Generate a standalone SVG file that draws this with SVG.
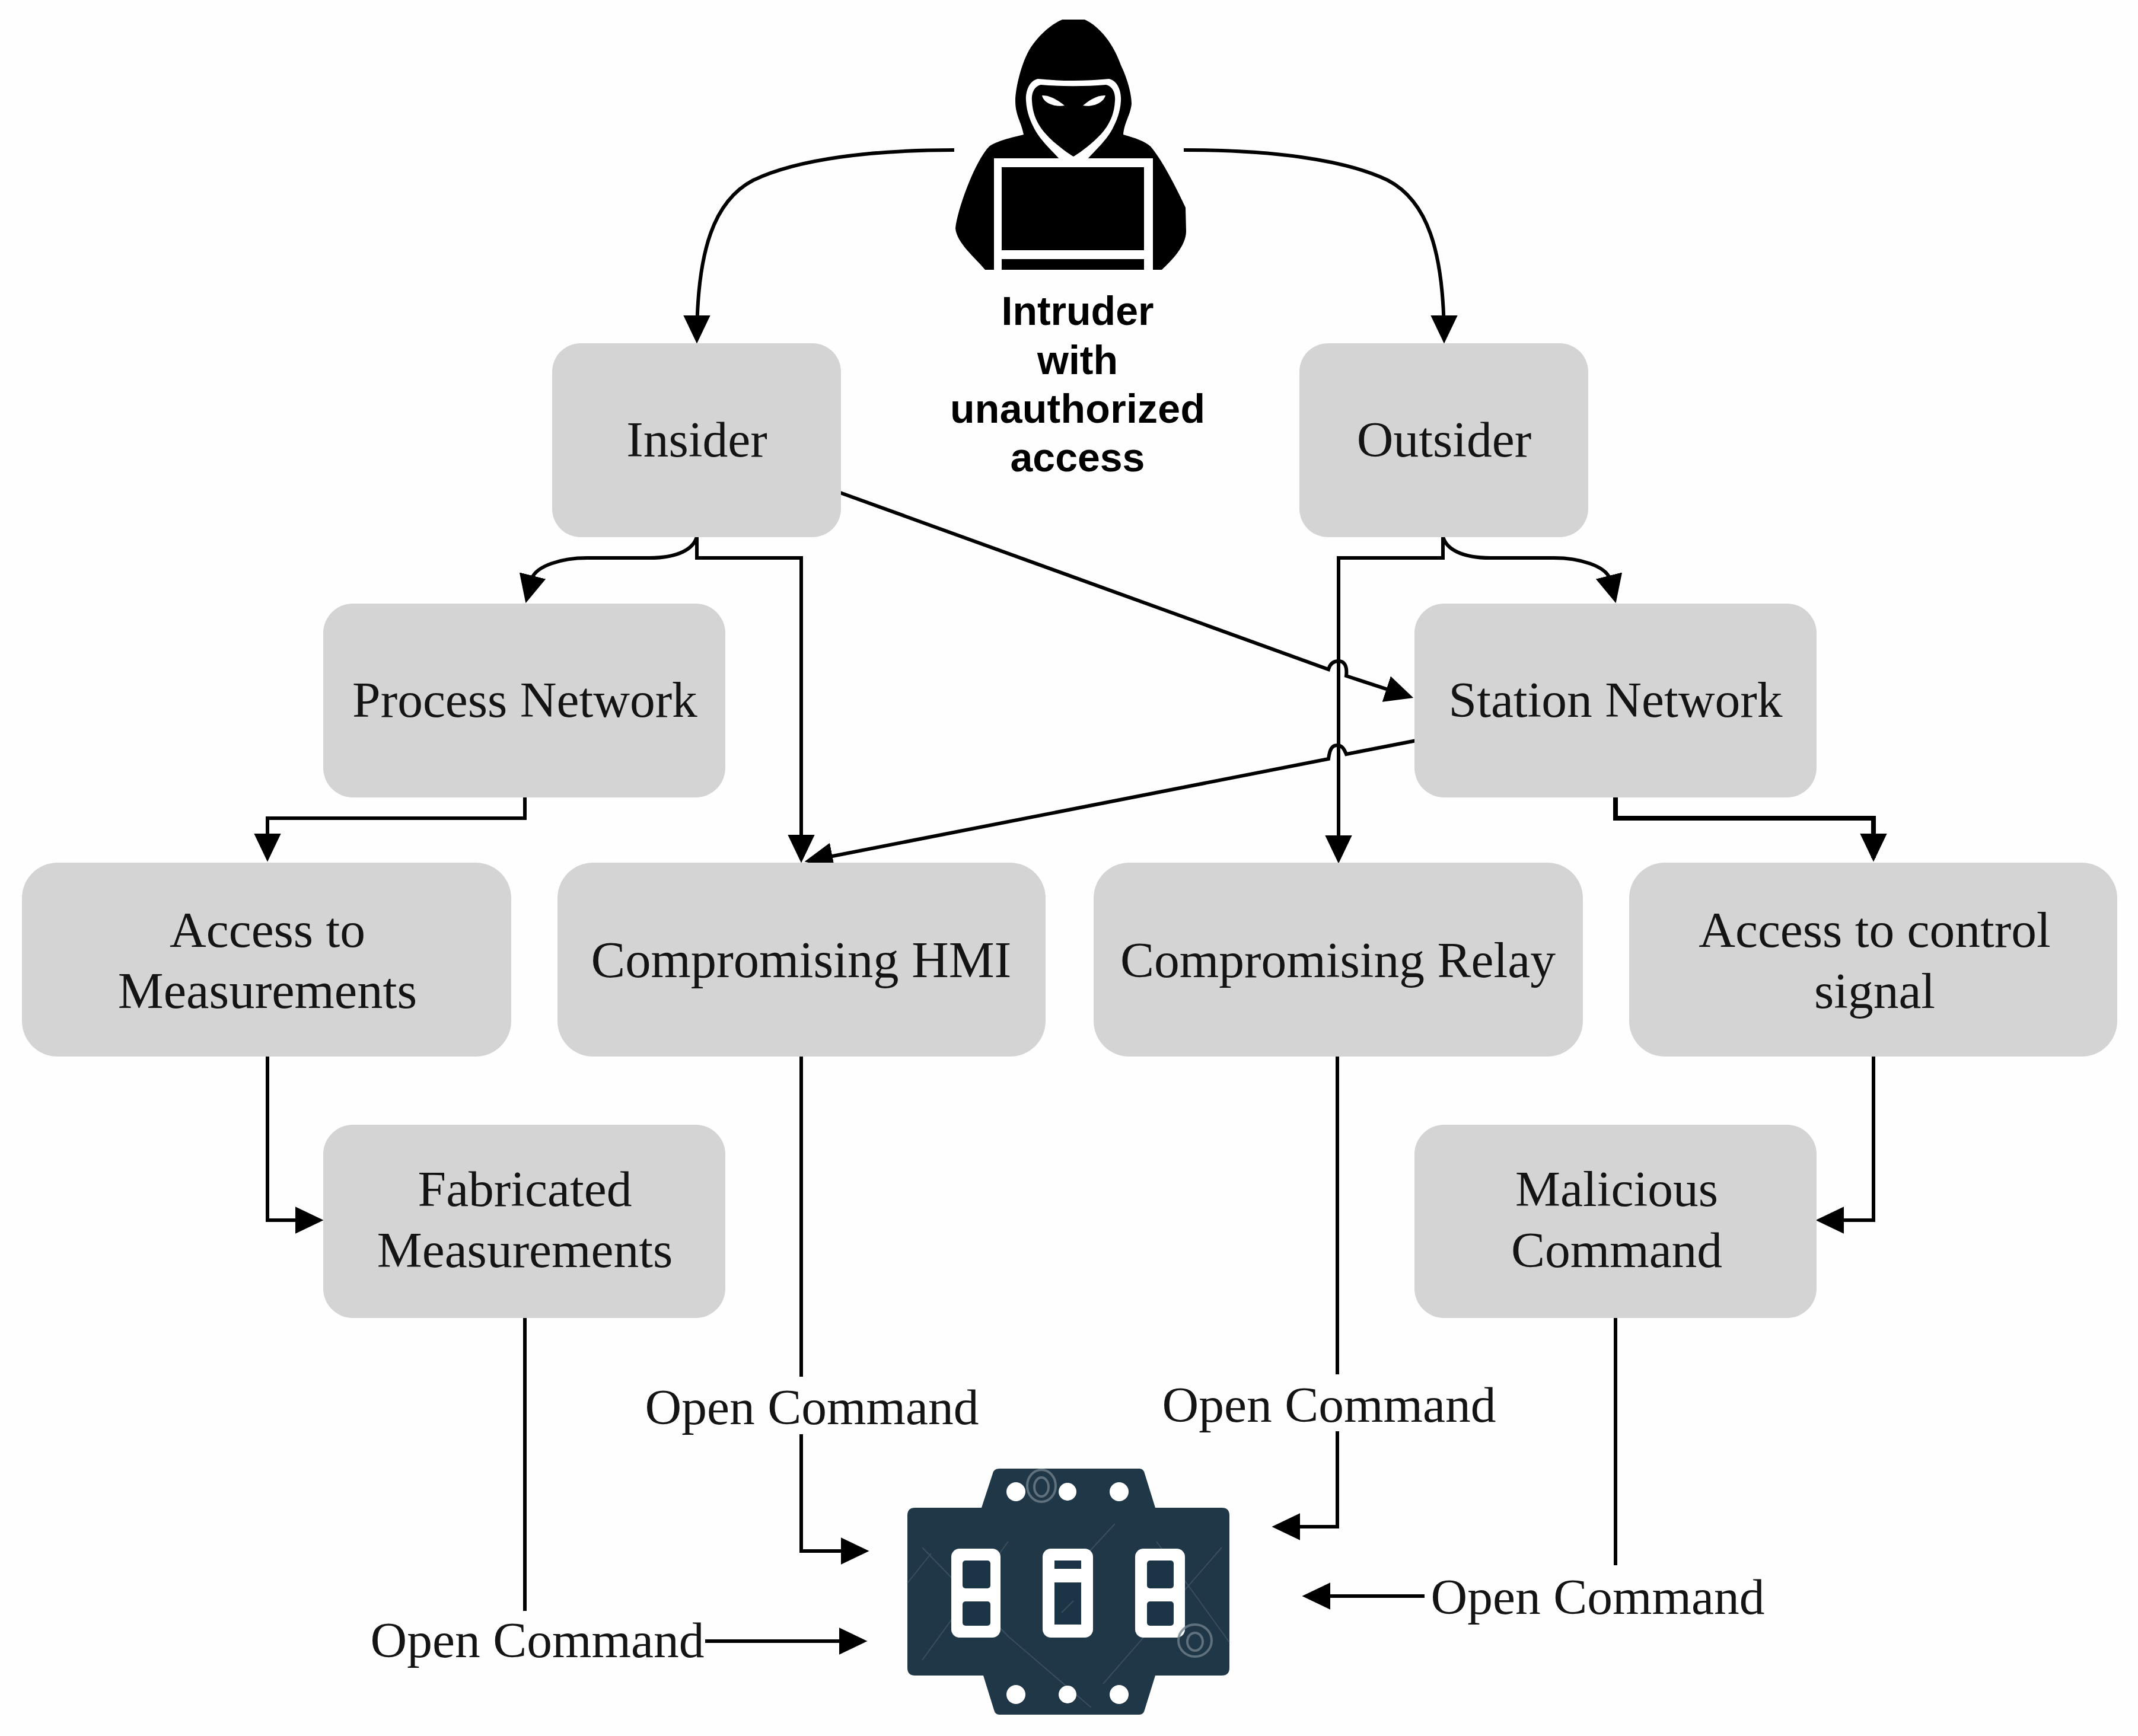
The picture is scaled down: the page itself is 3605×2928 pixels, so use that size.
<svg xmlns="http://www.w3.org/2000/svg" width="3605" height="2928" viewBox="0 0 3605 2928">
<style>
.box{fill:#d4d4d4}
.t{font-family:"Liberation Serif","Times New Roman",serif;font-size:85.5px;fill:#141414;text-anchor:middle}
.w{font-size:86.5px}
.b{font-family:"Liberation Sans",Arial,sans-serif;font-size:68px;font-weight:700;fill:#000;text-anchor:middle}
.c{fill:none;stroke:#000;stroke-width:6}
.h{stroke-width:8}
.a{marker-end:url(#arr)}
.wm{fill:none;stroke:#6f7f8a;stroke-width:4;opacity:.8}
.wl{fill:none;stroke:#46596a;stroke-width:2;opacity:.7}
</style>
<defs>
<marker id="arr" markerUnits="userSpaceOnUse" markerWidth="50" markerHeight="46" refX="38" refY="21" orient="auto" viewBox="0 0 46 42">
<path d="M0,0 L44,21 L0,42 Z" fill="#000"/>
</marker>
</defs>
<rect width="3605" height="2928" fill="#fefefe"/>
<g id="connectors">
<path class="c a" d="M1609,253 C1470,253 1345,268 1270,304 C1205,338 1175,420 1175,573"/>
<path class="c a" d="M1996,253 C2140,253 2265,268 2340,304 C2405,338 2435,420 2435,573"/>
<path class="c a" d="M1175,905 C1170,925 1145,941 1095,941 L990,941 C945,941 905,955 897,975 L888,1011"/>
<path class="c a" d="M1175,905 L1175,941 L1351,941 L1351,1449"/>
<path class="c a" d="M2433,905 C2438,925 2463,941 2513,941 L2620,941 C2665,941 2706,955 2714,975 L2723,1011"/>
<path class="c a" d="M2433,905 L2433,941 L2257,941 L2257,1450"/>
<path class="c a" d="M1414,830 L2240,1129 C2243,1118 2250,1115 2257,1115 C2266,1115 2272,1122 2270,1140 L2377,1175"/>
<path class="c a" d="M2388,1249 L2270,1272 C2266,1262 2262,1257 2255,1257 C2245,1257 2242,1265 2240,1280 L1363,1452"/>
<path class="c a" d="M885,1345 L885,1380 L451,1380 L451,1447"/>
<path class="c h a" d="M2724,1345 L2724,1380 L3159,1380 L3159,1447"/>
<path class="c a" d="M451,1782 L451,2058 L539,2058"/>
<path class="c a" d="M3159,1782 L3159,2058 L3068,2058"/>
<path class="c" d="M1351,1782 L1351,2322"/>
<path class="c a" d="M1351,2419 L1351,2616 L1459,2616"/>
<path class="c" d="M2255,1782 L2255,2318"/>
<path class="c a" d="M2255,2414 L2255,2575 L2151,2575"/>
<path class="c" d="M885,2223 L885,2717"/>
<path class="c a" d="M1189,2768 L1456,2768"/>
<path class="c" d="M2724,2223 L2724,2640"/>
<path class="c a" d="M2402,2692 L2202,2692"/>
</g>
<g id="intruder">
<path fill="#000" d="M1791,33 L1829,33 C1855,45 1878,75 1890,110 C1902,135 1908,160 1908,175 C1906,195 1896,205 1894,227 C1915,233 1930,238 1940,247 C1960,270 1985,320 1999,350 L2000,390 C2000,415 1975,440 1959,455 L1661,455 C1645,435 1613,410 1611,385 C1615,350 1645,270 1668,247 C1680,238 1705,232 1726,227 C1722,205 1712,195 1712,170 C1712,150 1722,105 1738,80 C1755,55 1775,40 1791,33 Z"/>
<path fill="#fff" d="M1750,133 C1790,137 1830,137 1870,133 C1885,136 1891,155 1890,170 C1889,190 1882,205 1876,217 C1865,238 1845,255 1833,269 L1787,269 C1775,255 1755,238 1744,217 C1738,205 1731,190 1730,170 C1729,155 1735,136 1750,133 Z"/>
<path fill="#000" d="M1755,143 C1790,146 1830,146 1865,143 C1877,146 1881,158 1880,170 C1879,190 1873,203 1866,214 C1852,235 1825,255 1810,264 C1795,255 1768,235 1754,214 C1747,203 1741,190 1740,170 C1739,158 1743,146 1755,143 Z"/>
<path fill="#fff" d="M1757,161 C1770,160 1785,170 1795,178 C1780,181 1760,175 1757,161 Z"/>
<path fill="#fff" d="M1864,161 C1850,160 1835,170 1826,178 C1840,181 1860,175 1864,161 Z"/>
<rect x="1676" y="267" width="268" height="190" fill="#fff"/>
<rect x="1689" y="282" width="240" height="140" fill="#000"/>
<rect x="1689" y="437" width="240" height="18" fill="#000"/>
<text class="b" x="1817" y="548">Intruder</text>
<text class="b" x="1817" y="631">with</text>
<text class="b" x="1817" y="713" textLength="430" lengthAdjust="spacing">unauthorized</text>
<text class="b" x="1817" y="795">access</text>
</g>
<g id="insider"><rect class="box" x="931" y="579" width="487" height="327" rx="48"/><text class="t" x="1175" y="770">Insider</text></g>
<g id="outsider"><rect class="box" x="2191" y="579" width="487" height="327" rx="48"/><text class="t" x="2435" y="770">Outsider</text></g>
<g id="process-network"><rect class="box" x="545" y="1018" width="678" height="327" rx="50"/><text class="t" x="885" y="1209">Process Network</text></g>
<g id="station-network"><rect class="box" x="2385" y="1018" width="678" height="327" rx="50"/><text class="t" x="2724" y="1209">Station Network</text></g>
<g id="access-measurements"><rect class="box" x="37" y="1455" width="825" height="327" rx="60"/><text class="t" x="451" y="1597">Access to</text><text class="t w" x="451" y="1700">Measurements</text></g>
<g id="compromising-hmi"><rect class="box" x="940" y="1455" width="823" height="327" rx="60"/><text class="t w" x="1351" y="1648">Compromising HMI</text></g>
<g id="compromising-relay"><rect class="box" x="1844" y="1455" width="825" height="327" rx="60"/><text class="t" x="2256" y="1648">Compromising Relay</text></g>
<g id="access-control"><rect class="box" x="2747" y="1455" width="823" height="327" rx="60"/><text class="t" x="3161" y="1597">Access to control</text><text class="t" x="3161" y="1700">signal</text></g>
<g id="fabricated"><rect class="box" x="545" y="1897" width="678" height="326" rx="50"/><text class="t" x="885" y="2034">Fabricated</text><text class="t" x="885" y="2137">Measurements</text></g>
<g id="malicious"><rect class="box" x="2385" y="1897" width="678" height="326" rx="50"/><text class="t" x="2726" y="2034">Malicious</text><text class="t" x="2726" y="2137">Command</text></g>
<g id="labels">
<text class="t" x="1369" y="2402">Open Command</text>
<text class="t" x="2241" y="2398">Open Command</text>
<text class="t" x="906" y="2795">Open Command</text>
<text class="t" x="2694" y="2722">Open Command</text>
</g>
<g id="relay-device">
<path fill="#1f3747" d="M1685,2477 L1921,2477 Q1928,2477 1930,2485 L1948,2543 L2060,2543 Q2073,2543 2073,2556 L2073,2813 Q2073,2826 2060,2826 L1948,2826 L1930,2884 Q1928,2892 1921,2892 L1685,2892 Q1678,2892 1676,2884 L1658,2826 L1543,2826 Q1530,2826 1530,2813 L1530,2556 Q1530,2543 1543,2543 L1655,2543 L1674,2485 Q1676,2477 1685,2477 Z"/>
<path class="wl" d="M1555,2610 L1700,2760 M1700,2600 L1555,2800 M1880,2570 L1760,2700 M1700,2760 L1840,2880 M1950,2600 L2073,2770 M2060,2610 L1860,2840 M1570,2620 L1530,2670"/>
<g fill="#fff"><circle cx="1713" cy="2516" r="16"/><circle cx="1800" cy="2516" r="15"/><circle cx="1887" cy="2516" r="16"/><circle cx="1713" cy="2858" r="16"/><circle cx="1800" cy="2858" r="15"/><circle cx="1887" cy="2858" r="16"/>
<rect x="1604" y="2612" width="83" height="150" rx="14"/><rect x="1758" y="2612" width="85" height="150" rx="14"/><rect x="1914" y="2612" width="84" height="150" rx="14"/></g>
<g fill="#1c3546"><rect x="1623" y="2632" width="47" height="47" rx="5"/><rect x="1623" y="2701" width="47" height="41" rx="5"/><rect x="1778" y="2632" width="45" height="14"/><rect x="1778" y="2669" width="45" height="71"/><rect x="1934" y="2632" width="45" height="47" rx="5"/><rect x="1934" y="2701" width="45" height="41" rx="5"/></g>
<path class="wl" d="M1790,2720 L1810,2700"/>
<ellipse class="wm" cx="1756" cy="2506" rx="24" ry="27"/><ellipse class="wm" cx="1756" cy="2508" rx="12" ry="16"/>
<ellipse class="wm" cx="2015" cy="2767" rx="28" ry="27"/><ellipse class="wm" cx="2015" cy="2769" rx="13" ry="15"/>
</g>
</svg>
